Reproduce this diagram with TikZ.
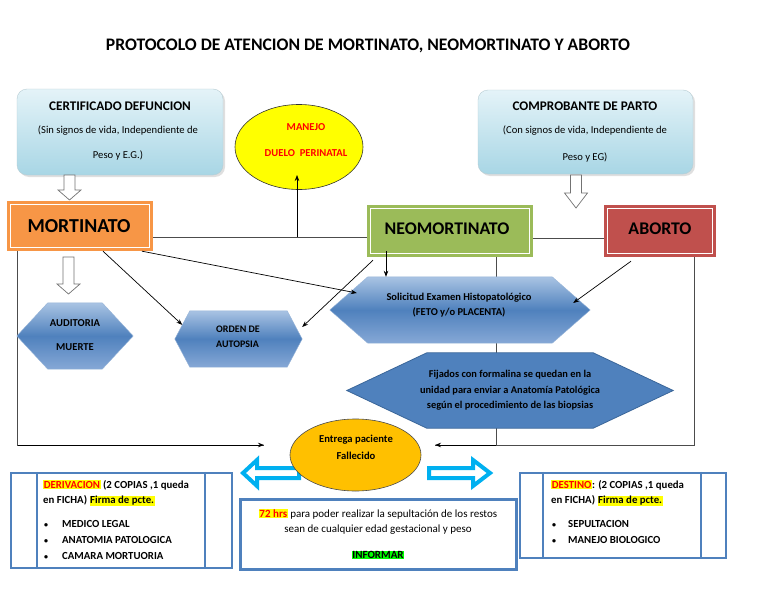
\documentclass[tikz,border=0pt]{standalone}
\usepackage{fontspec}
\setmainfont{Carlito}
\usetikzlibrary{arrows.meta,calc,shapes.geometric,shadows}
\definecolor{orangeC}{HTML}{F79646}
\definecolor{greenC}{HTML}{9BBB59}
\definecolor{redC}{HTML}{C0504D}
\definecolor{blueC}{HTML}{4F81BD}
\definecolor{blueD}{HTML}{3A6699}
\definecolor{cyanC}{HTML}{00B0F0}
\definecolor{goldC}{HTML}{FFC000}
\definecolor{hlyellow}{HTML}{FFFF00}
\definecolor{hlgreen}{HTML}{00FF00}
\definecolor{certtop}{HTML}{E4F3F8}
\definecolor{certbot}{HTML}{A8D6E5}
\definecolor{hextop}{HTML}{A9C3E3}
\definecolor{hexbot}{HTML}{86A8D6}
\newcommand{\fsz}[1]{\fontsize{#1}{#1}\selectfont}
\newcommand{\hly}[1]{{\setlength{\fboxsep}{0.6pt}\colorbox{hlyellow}{#1}}}
\newcommand{\hlr}[1]{{\setlength{\fboxsep}{0.6pt}\colorbox{hlyellow}{\textcolor{red}{#1}}}}
\newcommand{\hlg}[1]{{\setlength{\fboxsep}{0.6pt}\colorbox{hlgreen}{#1}}}
\newcommand{\hollowdown}[4]{\draw[hollow] (#1-5.5,#2) -- (#1+5.5,#2) -- (#1+5.5,#3) -- (#1+11.5,#3) -- (#1,#4) -- (#1-11.5,#3) -- (#1-5.5,#3) -- cycle;}
\tikzset{
  txt/.style={inner sep=0pt, font=\fsz{10.8}\bfseries},
  certbox/.style={draw=certbot!80!black!60, rounded corners=10pt, top color=certtop, bottom color=certbot, drop shadow={opacity=0.25, shadow xshift=2pt, shadow yshift=-2pt}},
  bigbox/.style={inner sep=0pt},
  hexbox/.style={inner sep=0pt, draw=none},
  hexshade/.style={top color=hextop, bottom color=hexbot, middle color=blueC, draw=blueC!60},
  hexsolid/.style={fill=blueC, draw=blueD, line width=0.8pt},
  conn/.style={draw=black!70, line width=0.8pt},
  arr/.style={draw=black, line width=0.7pt, -{Stealth[length=6pt,width=4.5pt]}},
  hollow/.style={draw=black!55, fill=white, line width=0.7pt},
  bluearrow/.style={draw=cyanC, fill=white, line width=4pt, line join=miter},
  framebox/.style={draw=blueC, line width=2.2pt, inner sep=0pt},
  thinframe/.style={draw=blueC, line width=1.8pt},
}
\begin{document}
\begin{tikzpicture}[x=1pt,y=-1pt]
\useasboundingbox[fill=white] (0,0) rectangle (768,594);

% title
\node[txt, font=\fsz{17.6}\bfseries] (title) at (368,46) {PROTOCOLO DE ATENCION DE MORTINATO, NEOMORTINATO Y ABORTO};

% top boxes
\node[certbox, minimum width=206pt, minimum height=86pt] (cert) at (120,132) {};
\node[txt, font=\fsz{13.2}\bfseries] (cert1) at (120,106) {CERTIFICADO DEFUNCION};
\node[txt, font=\fsz{10.6}] (cert2) at (118,131) {(Sin signos de vida, Independiente de};
\node[txt, font=\fsz{10.6}] (cert3) at (118,155) {Peso y E.G.)};

\node[certbox, minimum width=215pt, minimum height=84pt] (comp) at (585.5,132) {};
\node[txt, font=\fsz{13.2}\bfseries] (comp1) at (585,106) {COMPROBANTE DE PARTO};
\node[txt, font=\fsz{10.6}] (comp2) at (585,131) {(Con signos de vida, Independiente de};
\node[txt, font=\fsz{10.6}] (comp3) at (585,157) {Peso y EG)};

% duelo ellipse
\node[ellipse, draw=black!80, fill=hlyellow, line width=0.6pt, minimum width=128pt, minimum height=85pt, inner sep=0pt] (duelo) at (299,147) {};
\node[txt, font=\fsz{10.6}\bfseries, text=red] (duelo1) at (306,127) {MANEJO};
\node[txt, font=\fsz{10.6}\bfseries, text=red] (duelo2) at (306,153) {DUELO\ \ PERINATAL};

% hollow arrows
\hollowdown{69.5}{175}{190}{200}
\hollowdown{576}{175}{193}{208}
\hollowdown{68.5}{257}{284}{294}

% lines behind
\node[bigbox, minimum width=146pt, minimum height=50pt] (mort) at (80,226) {};
\node[bigbox, minimum width=166pt, minimum height=52pt] (neo) at (450,231) {};
\node[bigbox, minimum width=112pt, minimum height=52pt] (abo) at (660,231) {};

\coordinate (l1) at ([xshift=11pt]mort.south west);
\coordinate (e1) at (264,445);
\coordinate (a1) at ([xshift=-22pt]abo.south east);
\coordinate (e2) at (435,445);
\coordinate (n1) at ([xshift=46pt]neo.south);
\coordinate (j1) at (297,237);
\coordinate (d1) at (297,175);

\draw[conn] ([yshift=-11pt]mort.east) -- ([yshift=-11pt]mort.east -| neo.west);
\draw[conn] ([yshift=-7pt]neo.east) -- ([yshift=-7pt]neo.east -| abo.west);
\draw[arr] (j1) -- (d1);
\draw[conn] (n1) -- (n1 |- e2);
\draw[conn] (l1) |- (e1);
\draw[arr] (l1 |- e1) -- (e1);
\draw[conn] (a1) |- (e2);
\draw[arr] (n1 |- e2) -- (e2);

% big boxes
\fill[orangeC] (mort.north west) rectangle (mort.south east);
\draw[white, line width=1.1pt] ([shift={(3.5pt,-3.5pt)}]mort.north west) rectangle ([shift={(-3.5pt,3.5pt)}]mort.south east);
\node[txt, font=\fsz{19.8}\bfseries] (mortt) at (79,226) {MORTINATO};

\fill[greenC] (neo.north west) rectangle (neo.south east);
\draw[white, line width=1.1pt] ([shift={(3.5pt,-3.5pt)}]neo.north west) rectangle ([shift={(-3.5pt,3.5pt)}]neo.south east);
\node[txt, font=\fsz{17.8}\bfseries] (neot) at (447,229) {NEOMORTINATO};

\fill[redC] (abo.north west) rectangle (abo.south east);
\draw[white, line width=1.1pt] ([shift={(3.5pt,-3.5pt)}]abo.north west) rectangle ([shift={(-3.5pt,3.5pt)}]abo.south east);
\node[txt, font=\fsz{17.8}\bfseries] (abot) at (660,229) {ABORTO};

% hexagons
\node[hexbox, minimum width=116pt, minimum height=66pt] (aud) at (75,336) {};
\path[hexshade] (aud.west) -- ([xshift=31pt]aud.north west) -- ([xshift=-31pt]aud.north east) -- (aud.east) -- ([xshift=-31pt]aud.south east) -- ([xshift=31pt]aud.south west) -- cycle;
\node[txt, font=\fsz{10.6}\bfseries] (aud1) at (75,323) {AUDITORIA};
\node[txt, font=\fsz{10.6}\bfseries] (aud2) at (75,347) {MUERTE};

\node[hexbox, minimum width=127pt, minimum height=56pt] (orden) at (238.5,339) {};
\path[hexshade] (orden.west) -- ([xshift=15pt]orden.north west) -- ([xshift=-15pt]orden.north east) -- (orden.east) -- ([xshift=-15pt]orden.south east) -- ([xshift=15pt]orden.south west) -- cycle;
\node[txt, font=\fsz{10}\bfseries, align=left, anchor=west] (orden1) at (216,336.5) {ORDEN DE\\[5pt]AUTOPSIA};

\node[hexbox, minimum width=260pt, minimum height=66pt] (sol) at (460,310) {};
\path[hexshade] (sol.west) -- ([xshift=38pt]sol.north west) -- ([xshift=-38pt]sol.north east) -- (sol.east) -- ([xshift=-38pt]sol.south east) -- ([xshift=38pt]sol.south west) -- cycle;
\node[txt, font=\fsz{10.5}\bfseries] (sol1) at (459,298) {Solicitud Examen Histopatológico};
\node[txt, font=\fsz{10.5}\bfseries] (sol2) at (459,312) {(FETO y/o PLACENTA)};

\node[hexbox, minimum width=326pt, minimum height=75pt] (fij) at (510,390.5) {};
\path[hexsolid] (fij.west) -- ([xshift=80pt]fij.north west) -- ([xshift=-80pt]fij.north east) -- (fij.east) -- ([xshift=-80pt]fij.south east) -- ([xshift=80pt]fij.south west) -- cycle;
\node[txt, font=\fsz{10.4}\bfseries] (fij1) at (510,375) {Fijados con formalina se quedan en la};
\node[txt, font=\fsz{10.4}\bfseries] (fij2) at (510,390.5) {unidad para enviar a Anatomía Patológica};
\node[txt, font=\fsz{10.4}\bfseries] (fij3) at (510,406) {según el procedimiento de las biopsias};

% arrows into hexagons
\draw[arr] ([xshift=23pt]mort.south) -- ($(orden.west)!0.5!([xshift=15pt]orden.north west)$);
\draw[arr] ([xshift=62pt]mort.south) -- ([xshift=27pt,yshift=17pt]sol.west);
\draw[arr] ([xshift=-77pt,yshift=-3pt]neo.south) -- ([yshift=12pt]orden.east);
\draw[arr] ([xshift=-64pt,yshift=6pt]neo.south) -- ([xshift=-64pt]neo.south |- sol.north);
\draw[arr] ([xshift=-29pt,yshift=-4pt]abo.south) -- ([xshift=-17pt,yshift=7pt]sol.east);

% blue arrows
\draw[bluearrow] (299,468) -- (257,468) -- (257,460) -- (243,473) -- (257,486) -- (257,478) -- (299,478) -- cycle;
\draw[bluearrow] (429,468) -- (473,468) -- (473,460) -- (490,473) -- (473,486) -- (473,478) -- (429,478) -- cycle;

% entrega ellipse
\node[ellipse, draw=black!70, fill=goldC, line width=0.6pt, minimum width=131pt, minimum height=72pt, inner sep=0pt] (ent) at (355.5,455) {};
\node[txt, font=\fsz{10.6}\bfseries] (ent1) at (356,440) {Entrega paciente};
\node[txt, font=\fsz{10.6}\bfseries] (ent2) at (356,456) {Fallecido};

% bottom left box
\node[framebox, minimum width=221pt, minimum height=95pt] (der) at (121.5,520.5) {};
\draw[thinframe] ([xshift=27pt]der.north west) -- ([xshift=27pt]der.south west);
\draw[thinframe] ([xshift=-28pt]der.north east) -- ([xshift=-28pt]der.south east);
\node[txt, anchor=west] (der1) at (43,485) {\hlr{DERIVACION} (2 COPIAS ,1 queda};
\node[txt, anchor=west] (der2) at (43,501) {en FICHA) \hly{Firma de pcte.}};
\node[txt, anchor=west] (der3) at (44,524) {\makebox[18pt][l]{\fsz{8}\textbullet}MEDICO LEGAL};
\node[txt, anchor=west] (der4) at (44,539.5) {\makebox[18pt][l]{\fsz{8}\textbullet}ANATOMIA PATOLOGICA};
\node[txt, anchor=west] (der5) at (44,556) {\makebox[18pt][l]{\fsz{8}\textbullet}CAMARA MORTUORIA};

% bottom middle box
\node[framebox, line width=3pt, minimum width=276pt, minimum height=70pt] (inf) at (378,534) {};
\node[txt, font=\fsz{11}] (inf1) at (378,514) {\hlr{\textbf{72 hrs}} para poder realizar la sepultación de los restos};
\node[txt, font=\fsz{11}] (inf2) at (378,529.5) {sean de cualquier edad gestacional y peso};
\node[txt, font=\fsz{11}\bfseries] (inf3) at (378,555) {\hlg{INFORMAR}};

% bottom right box
\node[framebox, minimum width=206pt, minimum height=85pt] (des) at (623,515.5) {};
\draw[thinframe] ([xshift=24pt]des.north west) -- ([xshift=24pt]des.south west);
\draw[thinframe] ([xshift=-26pt]des.north east) -- ([xshift=-26pt]des.south east);
\node[txt, anchor=west] (des1) at (551,485) {\hlr{DESTINO}: (2 COPIAS ,1 queda};
\node[txt, anchor=west] (des2) at (551,501) {en FICHA) \hly{Firma de pcte.}};
\node[txt, anchor=west] (des3) at (552,524) {\makebox[16pt][l]{\fsz{8}\textbullet}SEPULTACION};
\node[txt, anchor=west] (des4) at (552,539.5) {\makebox[16pt][l]{\fsz{8}\textbullet}MANEJO BIOLOGICO};
\end{tikzpicture}
\end{document}
